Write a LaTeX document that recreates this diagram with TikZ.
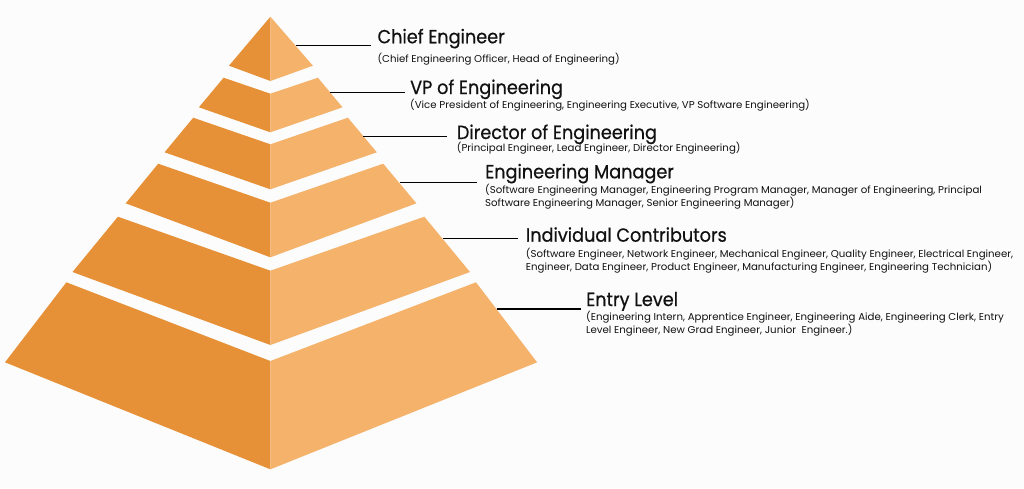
\documentclass[tikz,border=0pt]{standalone}
\usepackage{fontspec}
\setmainfont{Poppins}
\newfontfamily\titlefont[FakeStretch=0.93,FakeBold=0.6]{Poppins}
\newfontfamily\subfont[FakeStretch=1.02]{Poppins}
\definecolor{bgc}{HTML}{FCFCFC}
\definecolor{darko}{HTML}{E69138}
\definecolor{lighto}{HTML}{F5B26B}
\definecolor{txt}{HTML}{111111}
\begin{document}
\begin{tikzpicture}[x=1pt,y=-1pt,
  title/.style={anchor=base west,inner sep=0pt,text=txt,font=\titlefont\fontsize{19}{19}\selectfont},
  sub/.style={anchor=base west,inner sep=0pt,text=txt,align=left,font=\subfont\fontsize{10}{13.3}\selectfont},
  leader/.style={draw=black,line width=1.5pt},
  dk/.style={fill=darko},
  lt/.style={fill=lighto}]
\fill[bgc] (0,0) rectangle (1024,488);
\useasboundingbox (0,0) rectangle (1024,488);
% tier 1
\fill[dk] (270.4,16.7) -- (229,65.7) -- (270.4,81) -- cycle;
\fill[lt] (270.4,16.7) -- (312.9,65.7) -- (270.4,81) -- cycle;
% tier 2
\fill[dk] (223.6,77.7) -- (270.4,93.7) -- (270.4,132.3) -- (198.9,107.3) -- cycle;
\fill[lt] (317.9,77.7) -- (270.4,93.7) -- (270.4,132.3) -- (342.5,107.3) -- cycle;
% tier 3
\fill[dk] (193.2,117.7) -- (270.4,144.3) -- (270.4,189.3) -- (164.6,152.3) -- cycle;
\fill[lt] (347.9,117.7) -- (270.4,144.3) -- (270.4,189.3) -- (376.8,152.3) -- cycle;
% tier 4
\fill[dk] (158.2,163.7) -- (270.4,202.7) -- (270.4,257.3) -- (125.7,203.3) -- cycle;
\fill[lt] (383.2,163.7) -- (270.4,202.7) -- (270.4,257.3) -- (416.4,203.3) -- cycle;
% tier 5
\fill[dk] (117.9,216.7) -- (270.4,270.7) -- (270.4,345) -- (72.5,272) -- cycle;
\fill[lt] (424.3,216.7) -- (270.4,270.7) -- (270.4,345) -- (470,272) -- cycle;
% tier 6
\fill[dk] (66.4,282.3) -- (270.4,361) -- (270.4,469.3) -- (5,362.3) -- cycle;
\fill[lt] (476,282.3) -- (270.4,361) -- (270.4,469.3) -- (537.1,362.3) -- cycle;

% titles and subtitles
\node[title] (t1) at (377.3,43.3) {Chief Engineer};
\node[sub] (s1) at (377.3,62.7) {(Chief Engineering Officer, Head of Engineering)};
\node[title] (t2) at (410,94) {VP of Engineering};
\node[sub] (s2) at (410,108.3) {(Vice President of Engineering, Engineering Executive, VP Software Engineering)};
\node[title] (t3) at (456.7,139) {Director of Engineering};
\node[sub] (s3) at (456.7,151.7) {(Principal Engineer, Lead Engineer, Director Engineering)};
\node[title] (t4) at (485,178.3) {Engineering Manager};
\node[sub] (s4) at (485,206.6) {(Software Engineering Manager, Engineering Program Manager, Manager of Engineering, Principal\\Software Engineering Manager, Senior Engineering Manager)};
\node[title] (t5) at (525.7,241.7) {Individual Contributors};
\node[sub] (s5) at (525.7,270.6) {(Software Engineer, Network Engineer, Mechanical Engineer, Quality Engineer, Electrical Engineer,\\Engineer, Data Engineer, Product Engineer, Manufacturing Engineer, Engineering Technician)};
\node[title] (t6) at (586,306) {Entry Level};
\node[sub] (s6) at (586,333.3) {(Engineering Intern, Apprentice Engineer, Engineering Aide, Engineering Clerk, Entry\\Level Engineer, New Grad Engineer, Junior~~Engineer.)};

% leaders
\coordinate (p1) at (296.4,45.7); \coordinate (q1) at (370.7,45.7);
\coordinate (p2) at (330,92.3);   \coordinate (q2) at (405,92.3);
\coordinate (p3) at (363,136.7);  \coordinate (q3) at (447.3,136.7);
\coordinate (p4) at (400,182.7);  \coordinate (q4) at (476.7,182.7);
\coordinate (p5) at (443.3,238.3);\coordinate (q5) at (518.3,238.3);
\coordinate (p6) at (496.7,309);  \coordinate (q6) at (581,309);
\foreach \i in {1,...,6} \draw[leader] (p\i) -- (q\i);
\end{tikzpicture}
\end{document}
